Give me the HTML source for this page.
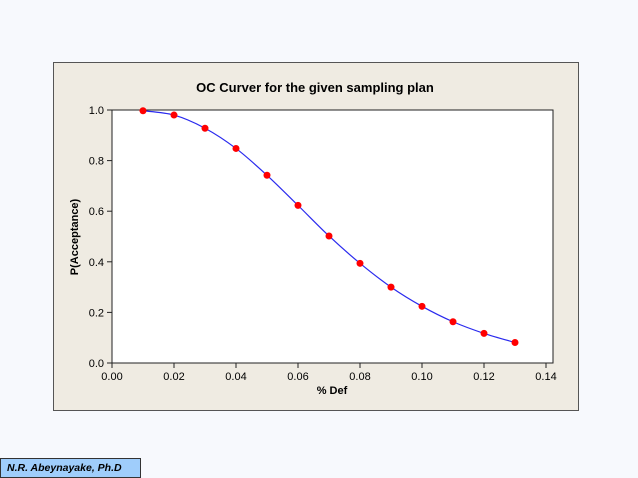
<!DOCTYPE html>
<html><head><meta charset="utf-8"><style>
body{margin:0;width:638px;height:478px;background:#f7f9fd;overflow:hidden;position:relative;font-family:"Liberation Sans",sans-serif}
#foot{position:absolute;left:0;top:458px;width:139px;height:18px;background:#9fcdfb;border:1px solid #333;font-size:10.5px;font-weight:bold;font-style:italic;line-height:18px;padding-left:6px;box-sizing:border-box;width:141px;height:20px}
</style></head><body>
<svg id="chart" width="638" height="478" style="position:absolute;left:0;top:0">
<rect x="53.5" y="62.5" width="525" height="348" fill="#efebe2" stroke="#555" stroke-width="1"/>
<rect x="112" y="110" width="441" height="253" fill="#fff" stroke="#222" stroke-width="1"/>
<text x="315" y="92" text-anchor="middle" font-size="13" font-weight="bold">OC Curver  for the given sampling plan</text>
<text x="332" y="394" text-anchor="middle" font-size="11" font-weight="bold">% Def</text>
<text transform="translate(78,237) rotate(-90)" text-anchor="middle" font-size="11" font-weight="bold">P(Acceptance)</text>
<g id="axes"></g><g id="marks"></g>
</svg>
<div id="foot">N.R. Abeynayake, Ph.D</div>
<script>
const defects=[0.01,0.02,0.03,0.04,0.05,0.06,0.07,0.08,0.09,0.10,0.11,0.12,0.13];
const pAccept=[0.997,0.98,0.928,0.848,0.742,0.623,0.502,0.394,0.30,0.224,0.163,0.117,0.081];
const xTicks=[0,0.02,0.04,0.06,0.08,0.10,0.12,0.14];
const yTicks=[0,0.2,0.4,0.6,0.8,1.0];
const X=v=>112+v/0.14*434, Y=v=>363-v*253;
const NS="http://www.w3.org/2000/svg";
const ax=document.getElementById('axes'), mk=document.getElementById('marks');
function el(t,a,p){const e=document.createElementNS(NS,t);for(const k in a)e.setAttribute(k,a[k]);p.appendChild(e);return e;}
xTicks.forEach(v=>{
 const l=el('line',{x1:X(v),x2:X(v),y1:363,y2:368,stroke:'#222'},ax);
 
 
 const t=el('text',{x:X(v),y:380,'text-anchor':'middle','font-size':11},ax);t.textContent=v.toFixed(2);
 
 
});
yTicks.forEach(v=>{
 const l=el('line',{x1:107,x2:112,y1:Y(v),y2:Y(v),stroke:'#222'},ax);
 
 
 const t=el('text',{x:104,y:Y(v)+4,'text-anchor':'end','font-size':11},ax);t.textContent=v.toFixed(1);
 
 
});
const pts=defects.map((d,i)=>[X(d),Y(pAccept[i])]);
let dstr='M'+pts[0][0]+','+pts[0][1];
for(let i=0;i<pts.length-1;i++){
 const p0=pts[i-1]||pts[i],p1=pts[i],p2=pts[i+1],p3=pts[i+2]||p2;
 dstr+=` C${p1[0]+(p2[0]-p0[0])/6},${p1[1]+(p2[1]-p0[1])/6} ${p2[0]-(p3[0]-p1[0])/6},${p2[1]-(p3[1]-p1[1])/6} ${p2[0]},${p2[1]}`;
}
const path=el('path',{d:dstr,fill:'none',stroke:'#2a2aee','stroke-width':1.2},mk);


pts.forEach(p=>{
 const c=el('circle',{cx:p[0],cy:p[1],r:3.5,fill:'#f00'},mk);
 
 
});
</script>
</body></html>
